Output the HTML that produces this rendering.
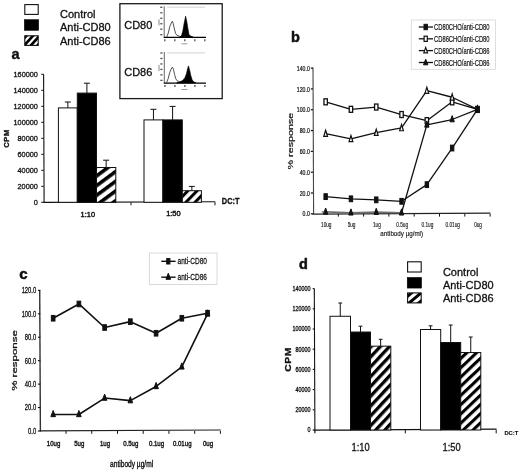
<!DOCTYPE html>
<html lang="en">
<head>
<meta charset="utf-8">
<title>Figure: CD80 / CD86 blocking</title>
<style>
html,body{margin:0;padding:0;background:#fff;}
body{width:520px;height:473px;overflow:hidden;}
svg{display:block;font-family:"Liberation Sans",Arial,Helvetica,sans-serif;}
</style>
</head>
<body>
<svg width="520" height="473" viewBox="0 0 520 473">
<defs>
<pattern id="hatchA" patternUnits="userSpaceOnUse" width="8" height="7.8" patternTransform="translate(0,2.6) rotate(-36.5)">
<rect x="0" y="0" width="8" height="7.8" fill="#fff"/><rect x="0" y="0" width="8" height="3.6" fill="#000"/>
</pattern>
<pattern id="hatchA2" patternUnits="userSpaceOnUse" width="8" height="6.6" patternTransform="rotate(-46) translate(0,2.16)">
<rect x="0" y="0" width="8" height="6.6" fill="#fff"/><rect x="0" y="0" width="8" height="3.0" fill="#000"/>
</pattern>
<pattern id="hatchD2" patternUnits="userSpaceOnUse" width="8" height="6.7" patternTransform="rotate(-43.5) translate(0,-0.5)">
<rect x="0" y="0" width="8" height="6.7" fill="#fff"/><rect x="0" y="0" width="8" height="3.1" fill="#000"/>
</pattern>
<pattern id="hatchD" patternUnits="userSpaceOnUse" width="8" height="6.7" patternTransform="translate(0,-4.5) rotate(-47)">
<rect x="0" y="0" width="8" height="6.7" fill="#fff"/><rect x="0" y="0" width="8" height="3.3" fill="#000"/>
</pattern>
</defs>
<rect x="0" y="0" width="520" height="473" fill="#fff"/>

<g id="panel-a">
<rect x="24.80" y="4.60" width="13.40" height="9.80" fill="#fff" stroke="#111" stroke-width="1.1"/>
<rect x="24.30" y="19.60" width="14.40" height="10.80" fill="#000" stroke="#000" stroke-width="0.5"/>
<clipPath id="hb1"><rect x="24.80" y="35.80" width="13.40" height="9.60"/></clipPath>
<rect x="24.80" y="35.80" width="13.40" height="9.60" fill="#fff" stroke="none" stroke-width="0"/>
<g clip-path="url(#hb1)">
<line x1="-15.57" y1="67.69" x2="24.57" y2="23.11" stroke="#000" stroke-width="2.7"/>
<line x1="-8.97" y1="67.69" x2="31.17" y2="23.11" stroke="#000" stroke-width="2.7"/>
<line x1="-2.37" y1="67.69" x2="37.77" y2="23.11" stroke="#000" stroke-width="2.7"/>
<line x1="4.23" y1="67.69" x2="44.37" y2="23.11" stroke="#000" stroke-width="2.7"/>
<line x1="10.83" y1="67.69" x2="50.97" y2="23.11" stroke="#000" stroke-width="2.7"/>
<line x1="17.43" y1="67.69" x2="57.57" y2="23.11" stroke="#000" stroke-width="2.7"/>
<line x1="24.03" y1="67.69" x2="64.17" y2="23.11" stroke="#000" stroke-width="2.7"/>
<line x1="30.63" y1="67.69" x2="70.77" y2="23.11" stroke="#000" stroke-width="2.7"/>
</g>
<rect x="24.80" y="35.80" width="13.40" height="9.60" fill="none" stroke="#111" stroke-width="1.1"/>
<text transform="translate(60.00,18.20)" font-size="11" text-anchor="start" font-weight="normal" fill="#111" stroke="#111" stroke-width="0.3">Control</text>
<text transform="translate(60.00,31.20)" font-size="11" text-anchor="start" font-weight="normal" fill="#111" stroke="#111" stroke-width="0.3">Anti-CD80</text>
<text transform="translate(60.00,44.80)" font-size="11" text-anchor="start" font-weight="normal" fill="#111" stroke="#111" stroke-width="0.3">Anti-CD86</text>
<text transform="translate(11.40,58.60)" font-size="14.5" text-anchor="start" font-weight="bold" fill="#111" stroke="#111" stroke-width="0.4">a</text>
<line x1="43.60" y1="74.20" x2="44.10" y2="202.80" stroke="#111" stroke-width="1.1"/>
<line x1="43.30" y1="202.40" x2="215.30" y2="201.70" stroke="#111" stroke-width="1.1"/>
<line x1="41.20" y1="202.30" x2="43.80" y2="202.30" stroke="#111" stroke-width="1.0"/>
<text transform="translate(37.90,204.90) scale(0.940,1)" font-size="7.8" text-anchor="end" font-weight="normal" fill="#111" stroke="#111" stroke-width="0.3">0</text>
<line x1="41.20" y1="186.30" x2="43.80" y2="186.30" stroke="#111" stroke-width="1.0"/>
<text transform="translate(37.90,188.90) scale(0.940,1)" font-size="7.8" text-anchor="end" font-weight="normal" fill="#111" stroke="#111" stroke-width="0.3">20000</text>
<line x1="41.20" y1="170.30" x2="43.80" y2="170.30" stroke="#111" stroke-width="1.0"/>
<text transform="translate(37.90,172.90) scale(0.940,1)" font-size="7.8" text-anchor="end" font-weight="normal" fill="#111" stroke="#111" stroke-width="0.3">40000</text>
<line x1="41.20" y1="154.30" x2="43.80" y2="154.30" stroke="#111" stroke-width="1.0"/>
<text transform="translate(37.90,156.90) scale(0.940,1)" font-size="7.8" text-anchor="end" font-weight="normal" fill="#111" stroke="#111" stroke-width="0.3">60000</text>
<line x1="41.20" y1="138.30" x2="43.80" y2="138.30" stroke="#111" stroke-width="1.0"/>
<text transform="translate(37.90,140.90) scale(0.940,1)" font-size="7.8" text-anchor="end" font-weight="normal" fill="#111" stroke="#111" stroke-width="0.3">80000</text>
<line x1="41.20" y1="122.30" x2="43.80" y2="122.30" stroke="#111" stroke-width="1.0"/>
<text transform="translate(37.90,124.90) scale(0.940,1)" font-size="7.8" text-anchor="end" font-weight="normal" fill="#111" stroke="#111" stroke-width="0.3">100000</text>
<line x1="41.20" y1="106.30" x2="43.80" y2="106.30" stroke="#111" stroke-width="1.0"/>
<text transform="translate(37.90,108.90) scale(0.940,1)" font-size="7.8" text-anchor="end" font-weight="normal" fill="#111" stroke="#111" stroke-width="0.3">120000</text>
<line x1="41.20" y1="90.30" x2="43.80" y2="90.30" stroke="#111" stroke-width="1.0"/>
<text transform="translate(37.90,92.90) scale(0.940,1)" font-size="7.8" text-anchor="end" font-weight="normal" fill="#111" stroke="#111" stroke-width="0.3">140000</text>
<line x1="41.20" y1="74.30" x2="43.80" y2="74.30" stroke="#111" stroke-width="1.0"/>
<text transform="translate(37.90,76.90) scale(0.940,1)" font-size="7.8" text-anchor="end" font-weight="normal" fill="#111" stroke="#111" stroke-width="0.3">160000</text>
<line x1="131.00" y1="202.30" x2="131.00" y2="205.30" stroke="#111" stroke-width="1.0"/>
<line x1="215.00" y1="202.30" x2="215.00" y2="205.30" stroke="#111" stroke-width="1.0"/>
<line x1="67.85" y1="102.00" x2="67.85" y2="107.90" stroke="#111" stroke-width="1.0"/>
<line x1="64.85" y1="102.00" x2="70.85" y2="102.00" stroke="#111" stroke-width="1.0"/>
<rect x="58.40" y="107.90" width="18.90" height="94.40" fill="#fff" stroke="#111" stroke-width="1.0"/>
<line x1="86.90" y1="83.20" x2="86.90" y2="93.10" stroke="#111" stroke-width="1.0"/>
<line x1="83.90" y1="83.20" x2="89.90" y2="83.20" stroke="#111" stroke-width="1.0"/>
<rect x="77.30" y="93.10" width="19.20" height="109.20" fill="#000" stroke="#111" stroke-width="1.0"/>
<line x1="106.15" y1="160.20" x2="106.15" y2="167.50" stroke="#111" stroke-width="1.0"/>
<line x1="103.15" y1="160.20" x2="109.15" y2="160.20" stroke="#111" stroke-width="1.0"/>
<rect x="96.50" y="167.50" width="19.30" height="34.80" fill="url(#hatchA)" stroke="#111" stroke-width="1.0"/>
<line x1="153.45" y1="109.30" x2="153.45" y2="119.90" stroke="#111" stroke-width="1.0"/>
<line x1="150.45" y1="109.30" x2="156.45" y2="109.30" stroke="#111" stroke-width="1.0"/>
<rect x="144.00" y="119.90" width="18.90" height="82.40" fill="#fff" stroke="#111" stroke-width="1.0"/>
<line x1="172.60" y1="106.40" x2="172.60" y2="119.90" stroke="#111" stroke-width="1.0"/>
<line x1="169.60" y1="106.40" x2="175.60" y2="106.40" stroke="#111" stroke-width="1.0"/>
<rect x="162.90" y="119.90" width="19.40" height="82.40" fill="#000" stroke="#111" stroke-width="1.0"/>
<line x1="191.85" y1="186.40" x2="191.85" y2="190.70" stroke="#111" stroke-width="1.0"/>
<line x1="188.85" y1="186.40" x2="194.85" y2="186.40" stroke="#111" stroke-width="1.0"/>
<rect x="182.30" y="190.70" width="19.10" height="11.60" fill="url(#hatchA2)" stroke="#111" stroke-width="1.0"/>
<text transform="translate(87.80,216.60) scale(0.950,1)" font-size="7.8" text-anchor="middle" font-weight="normal" fill="#111" stroke="#111" stroke-width="0.45">1:10</text>
<text transform="translate(173.40,216.40) scale(0.950,1)" font-size="7.8" text-anchor="middle" font-weight="normal" fill="#111" stroke="#111" stroke-width="0.45">1:50</text>
<text transform="translate(221.80,203.50) scale(0.900,1)" font-size="8.2" text-anchor="start" font-weight="bold" fill="#111" stroke="#111" stroke-width="0.3">DC:T</text>
<text transform="translate(8.50,138.40) rotate(-90)" font-size="7.6" text-anchor="middle" font-weight="bold" fill="#111" letter-spacing="0.6" stroke="#111" stroke-width="0.35">CPM</text>
<rect x="119.90" y="3.70" width="102.30" height="94.90" fill="#fff" stroke="#1a1a1a" stroke-width="1.3"/>
<text transform="translate(124.20,28.80)" font-size="11" text-anchor="start" font-weight="normal" fill="#111" stroke="#111" stroke-width="0.3">CD80</text>
<text transform="translate(124.20,75.80)" font-size="11" text-anchor="start" font-weight="normal" fill="#111" stroke="#111" stroke-width="0.3">CD86</text>
<line x1="167.20" y1="7.20" x2="205.00" y2="7.20" stroke="#c8c8c8" stroke-width="0.8"/>
<line x1="164.20" y1="6.30" x2="164.20" y2="37.40" stroke="#666" stroke-width="1.0"/>
<line x1="160.20" y1="7.30" x2="162.40" y2="7.30" stroke="#555" stroke-width="1.3"/>
<line x1="160.20" y1="12.77" x2="162.40" y2="12.77" stroke="#555" stroke-width="1.3"/>
<line x1="160.20" y1="18.25" x2="162.40" y2="18.25" stroke="#555" stroke-width="1.3"/>
<line x1="160.20" y1="23.72" x2="162.40" y2="23.72" stroke="#555" stroke-width="1.3"/>
<line x1="160.20" y1="29.19" x2="162.40" y2="29.19" stroke="#555" stroke-width="1.3"/>
<line x1="160.20" y1="34.66" x2="162.40" y2="34.66" stroke="#555" stroke-width="1.3"/>
<polyline points="166.8,36.9 168.3,33 169.8,26.5 171.2,23.2 172.3,21.3 173.2,23.5 174.4,29 175.6,33.4 176.8,35.2 179.8,36.4 183,36.9" fill="none" stroke="#333" stroke-width="0.85" stroke-linejoin="round"/>
<polygon points="179.5,37.2 181.5,35.6 182.8,31 184,24 185.6,16.2 186.8,21.5 187.8,28 189,34.4 190.5,36 193.5,37.2" fill="#000" stroke="#000" stroke-width="0.6" stroke-linejoin="round"/>
<line x1="163.70" y1="37.40" x2="206.00" y2="37.40" stroke="#000" stroke-width="1.4"/>
<line x1="164.80" y1="39.20" x2="164.80" y2="41.20" stroke="#666" stroke-width="1.5"/>
<line x1="174.80" y1="39.20" x2="174.80" y2="41.20" stroke="#666" stroke-width="1.5"/>
<line x1="184.80" y1="39.20" x2="184.80" y2="41.20" stroke="#666" stroke-width="1.5"/>
<line x1="194.80" y1="39.20" x2="194.80" y2="41.20" stroke="#666" stroke-width="1.5"/>
<line x1="204.80" y1="39.20" x2="204.80" y2="41.20" stroke="#666" stroke-width="1.5"/>
<line x1="181.50" y1="43.80" x2="187.50" y2="43.80" stroke="#999" stroke-width="1.0"/>
<line x1="159.00" y1="19.35" x2="159.00" y2="25.35" stroke="#888" stroke-width="1.0"/>
<line x1="167.30" y1="52.90" x2="205.00" y2="52.90" stroke="#c8c8c8" stroke-width="0.8"/>
<line x1="164.30" y1="52.00" x2="164.30" y2="83.10" stroke="#666" stroke-width="1.0"/>
<line x1="160.30" y1="53.00" x2="162.50" y2="53.00" stroke="#555" stroke-width="1.3"/>
<line x1="160.30" y1="58.47" x2="162.50" y2="58.47" stroke="#555" stroke-width="1.3"/>
<line x1="160.30" y1="63.95" x2="162.50" y2="63.95" stroke="#555" stroke-width="1.3"/>
<line x1="160.30" y1="69.42" x2="162.50" y2="69.42" stroke="#555" stroke-width="1.3"/>
<line x1="160.30" y1="74.89" x2="162.50" y2="74.89" stroke="#555" stroke-width="1.3"/>
<line x1="160.30" y1="80.36" x2="162.50" y2="80.36" stroke="#555" stroke-width="1.3"/>
<polyline points="166.6,82.6 168.2,78.5 169.8,72.3 171.2,69 172.4,67.1 173.4,69.2 174.6,74.5 175.8,78.8 177,80.6 180,82 183,82.6" fill="none" stroke="#333" stroke-width="0.85" stroke-linejoin="round"/>
<polygon points="176.5,82.9 179.5,82 182.9,80.3 185,77.5 186.5,73.5 187.6,68.5 188.5,65.9 189.6,70 190.8,75.5 192.2,80 193.5,81.6 196,82.9" fill="#000" stroke="#000" stroke-width="0.6" stroke-linejoin="round"/>
<line x1="163.80" y1="83.10" x2="206.00" y2="83.10" stroke="#000" stroke-width="1.4"/>
<line x1="164.90" y1="84.90" x2="164.90" y2="86.90" stroke="#666" stroke-width="1.5"/>
<line x1="174.90" y1="84.90" x2="174.90" y2="86.90" stroke="#666" stroke-width="1.5"/>
<line x1="184.90" y1="84.90" x2="184.90" y2="86.90" stroke="#666" stroke-width="1.5"/>
<line x1="194.90" y1="84.90" x2="194.90" y2="86.90" stroke="#666" stroke-width="1.5"/>
<line x1="204.90" y1="84.90" x2="204.90" y2="86.90" stroke="#666" stroke-width="1.5"/>
<line x1="181.50" y1="89.50" x2="187.50" y2="89.50" stroke="#999" stroke-width="1.0"/>
<line x1="159.00" y1="65.05" x2="159.00" y2="71.05" stroke="#888" stroke-width="1.0"/>
</g>
<g id="panel-b">
<text transform="translate(291.10,42.40)" font-size="14.5" text-anchor="start" font-weight="bold" fill="#111" stroke="#111" stroke-width="0.5">b</text>
<line x1="313.00" y1="67.60" x2="313.60" y2="214.30" stroke="#444" stroke-width="1.1"/>
<line x1="312.50" y1="214.10" x2="490.40" y2="213.20" stroke="#222" stroke-width="1.3"/>
<line x1="310.80" y1="213.80" x2="313.00" y2="213.80" stroke="#111" stroke-width="1.2"/>
<text transform="translate(309.80,216.40) scale(0.700,1)" font-size="7.4" text-anchor="end" font-weight="normal" fill="#111" stroke="#111" stroke-width="0.25">0.0</text>
<line x1="310.80" y1="192.99" x2="313.00" y2="192.99" stroke="#111" stroke-width="1.2"/>
<text transform="translate(309.80,195.59) scale(0.700,1)" font-size="7.4" text-anchor="end" font-weight="normal" fill="#111" stroke="#111" stroke-width="0.25">20.0</text>
<line x1="310.80" y1="172.18" x2="313.00" y2="172.18" stroke="#111" stroke-width="1.2"/>
<text transform="translate(309.80,174.78) scale(0.700,1)" font-size="7.4" text-anchor="end" font-weight="normal" fill="#111" stroke="#111" stroke-width="0.25">40.0</text>
<line x1="310.80" y1="151.36" x2="313.00" y2="151.36" stroke="#111" stroke-width="1.2"/>
<text transform="translate(309.80,153.96) scale(0.700,1)" font-size="7.4" text-anchor="end" font-weight="normal" fill="#111" stroke="#111" stroke-width="0.25">60.0</text>
<line x1="310.80" y1="130.55" x2="313.00" y2="130.55" stroke="#111" stroke-width="1.2"/>
<text transform="translate(309.80,133.15) scale(0.700,1)" font-size="7.4" text-anchor="end" font-weight="normal" fill="#111" stroke="#111" stroke-width="0.25">80.0</text>
<line x1="310.80" y1="109.74" x2="313.00" y2="109.74" stroke="#111" stroke-width="1.2"/>
<text transform="translate(309.80,112.34) scale(0.700,1)" font-size="7.4" text-anchor="end" font-weight="normal" fill="#111" stroke="#111" stroke-width="0.25">100.0</text>
<line x1="310.80" y1="88.93" x2="313.00" y2="88.93" stroke="#111" stroke-width="1.2"/>
<text transform="translate(309.80,91.53) scale(0.700,1)" font-size="7.4" text-anchor="end" font-weight="normal" fill="#111" stroke="#111" stroke-width="0.25">120.0</text>
<line x1="310.80" y1="68.12" x2="313.00" y2="68.12" stroke="#111" stroke-width="1.2"/>
<text transform="translate(309.80,70.72) scale(0.700,1)" font-size="7.4" text-anchor="end" font-weight="normal" fill="#111" stroke="#111" stroke-width="0.25">140.0</text>
<line x1="338.30" y1="213.80" x2="338.30" y2="216.60" stroke="#111" stroke-width="1.0"/>
<line x1="363.60" y1="213.80" x2="363.60" y2="216.60" stroke="#111" stroke-width="1.0"/>
<line x1="388.90" y1="213.80" x2="388.90" y2="216.60" stroke="#111" stroke-width="1.0"/>
<line x1="414.20" y1="213.80" x2="414.20" y2="216.60" stroke="#111" stroke-width="1.0"/>
<line x1="439.50" y1="213.80" x2="439.50" y2="216.60" stroke="#111" stroke-width="1.0"/>
<line x1="464.80" y1="213.80" x2="464.80" y2="216.60" stroke="#111" stroke-width="1.0"/>
<line x1="490.10" y1="213.80" x2="490.10" y2="216.60" stroke="#111" stroke-width="1.0"/>
<text transform="translate(326.25,227.30) scale(0.620,1)" font-size="7.6" text-anchor="middle" font-weight="normal" fill="#111" stroke="#111" stroke-width="0.15">10ug</text>
<text transform="translate(351.55,227.30) scale(0.620,1)" font-size="7.6" text-anchor="middle" font-weight="normal" fill="#111" stroke="#111" stroke-width="0.15">5ug</text>
<text transform="translate(376.85,227.30) scale(0.620,1)" font-size="7.6" text-anchor="middle" font-weight="normal" fill="#111" stroke="#111" stroke-width="0.15">1ug</text>
<text transform="translate(402.15,227.30) scale(0.620,1)" font-size="7.6" text-anchor="middle" font-weight="normal" fill="#111" stroke="#111" stroke-width="0.15">0.5ug</text>
<text transform="translate(427.45,227.30) scale(0.620,1)" font-size="7.6" text-anchor="middle" font-weight="normal" fill="#111" stroke="#111" stroke-width="0.15">0.1ug</text>
<text transform="translate(452.75,227.30) scale(0.620,1)" font-size="7.6" text-anchor="middle" font-weight="normal" fill="#111" stroke="#111" stroke-width="0.15">0.01ug</text>
<text transform="translate(478.05,227.30) scale(0.620,1)" font-size="7.6" text-anchor="middle" font-weight="normal" fill="#111" stroke="#111" stroke-width="0.15">0ug</text>
<text transform="translate(401.70,235.80) scale(0.800,1)" font-size="7.8" text-anchor="middle" font-weight="normal" fill="#111" stroke="#111" stroke-width="0.15">antibody µg/ml)</text>
<text transform="translate(292.80,141.10) rotate(-90) scale(1.430,1)" font-size="7.5" text-anchor="middle" font-weight="normal" fill="#111" stroke="#111" stroke-width="0.2">% response</text>
<polyline points="325.65,211.93 350.95,212.76 376.25,212.14 401.55,212.76" fill="none" stroke="#707070" stroke-width="1.7" stroke-linejoin="round"/>
<line x1="321.65" y1="211.93" x2="325.65" y2="211.93" stroke="#8a8a8a" stroke-width="1.7"/>
<polyline points="401.55,212.76 426.85,124.83 452.15,119.52 477.45,109.43" fill="none" stroke="#111" stroke-width="1.3" stroke-linejoin="round"/>
<polyline points="325.65,196.63 350.95,198.82 376.25,199.86 401.55,201.31 426.85,184.66 452.15,148.03 477.45,109.43" fill="none" stroke="#111" stroke-width="1.3" stroke-linejoin="round"/>
<polyline points="325.65,101.83 350.95,109.32 376.25,107.03 401.55,114.53 426.85,120.67 452.15,101.83 477.45,109.43" fill="none" stroke="#111" stroke-width="1.3" stroke-linejoin="round"/>
<polyline points="325.65,133.67 350.95,138.88 376.25,132.63 401.55,127.95 426.85,90.59 452.15,97.25 477.45,109.43" fill="none" stroke="#111" stroke-width="1.3" stroke-linejoin="round"/>
<rect x="323.95" y="98.83" width="3.40" height="6.00" fill="#fff" stroke="#111" stroke-width="1.3"/>
<rect x="349.25" y="106.32" width="3.40" height="6.00" fill="#fff" stroke="#111" stroke-width="1.3"/>
<rect x="374.55" y="104.03" width="3.40" height="6.00" fill="#fff" stroke="#111" stroke-width="1.3"/>
<rect x="399.85" y="111.53" width="3.40" height="6.00" fill="#fff" stroke="#111" stroke-width="1.3"/>
<rect x="425.15" y="117.67" width="3.40" height="6.00" fill="#fff" stroke="#111" stroke-width="1.3"/>
<rect x="450.45" y="98.83" width="3.40" height="6.00" fill="#fff" stroke="#111" stroke-width="1.3"/>
<rect x="475.75" y="106.43" width="3.40" height="6.00" fill="#fff" stroke="#111" stroke-width="1.3"/>
<polygon points="325.65,130.27 323.75,136.47 327.55,136.47" fill="#fff" stroke="#111" stroke-width="1.2" stroke-linejoin="miter"/>
<polygon points="350.95,135.48 349.05,141.68 352.85,141.68" fill="#fff" stroke="#111" stroke-width="1.2" stroke-linejoin="miter"/>
<polygon points="376.25,129.23 374.35,135.43 378.15,135.43" fill="#fff" stroke="#111" stroke-width="1.2" stroke-linejoin="miter"/>
<polygon points="401.55,124.55 399.65,130.75 403.45,130.75" fill="#fff" stroke="#111" stroke-width="1.2" stroke-linejoin="miter"/>
<polygon points="426.85,87.19 424.95,93.39 428.75,93.39" fill="#fff" stroke="#111" stroke-width="1.2" stroke-linejoin="miter"/>
<polygon points="452.15,93.85 450.25,100.05 454.05,100.05" fill="#fff" stroke="#111" stroke-width="1.2" stroke-linejoin="miter"/>
<polygon points="477.45,106.03 475.55,112.23 479.35,112.23" fill="#fff" stroke="#111" stroke-width="1.2" stroke-linejoin="miter"/>
<polygon points="325.65,208.03 323.45,214.23 327.85,214.23" fill="#111" stroke="#111" stroke-width="1.0" stroke-linejoin="miter"/>
<polygon points="350.95,208.86 348.75,215.06 353.15,215.06" fill="#111" stroke="#111" stroke-width="1.0" stroke-linejoin="miter"/>
<polygon points="376.25,208.24 374.05,214.44 378.45,214.44" fill="#111" stroke="#111" stroke-width="1.0" stroke-linejoin="miter"/>
<polygon points="401.55,208.86 399.35,215.06 403.75,215.06" fill="#111" stroke="#111" stroke-width="1.0" stroke-linejoin="miter"/>
<polygon points="426.85,120.93 424.65,127.13 429.05,127.13" fill="#111" stroke="#111" stroke-width="1.0" stroke-linejoin="miter"/>
<polygon points="452.15,115.62 449.95,121.82 454.35,121.82" fill="#111" stroke="#111" stroke-width="1.0" stroke-linejoin="miter"/>
<polygon points="477.45,105.53 475.25,111.73 479.65,111.73" fill="#111" stroke="#111" stroke-width="1.0" stroke-linejoin="miter"/>
<rect x="323.95" y="193.73" width="3.40" height="5.80" fill="#111" stroke="#111" stroke-width="1.0"/>
<rect x="349.25" y="195.92" width="3.40" height="5.80" fill="#111" stroke="#111" stroke-width="1.0"/>
<rect x="374.55" y="196.96" width="3.40" height="5.80" fill="#111" stroke="#111" stroke-width="1.0"/>
<rect x="399.85" y="198.41" width="3.40" height="5.80" fill="#111" stroke="#111" stroke-width="1.0"/>
<rect x="425.15" y="181.76" width="3.40" height="5.80" fill="#111" stroke="#111" stroke-width="1.0"/>
<rect x="450.45" y="145.13" width="3.40" height="5.80" fill="#111" stroke="#111" stroke-width="1.0"/>
<rect x="475.75" y="106.53" width="3.40" height="5.80" fill="#111" stroke="#111" stroke-width="1.0"/>
<rect x="411.30" y="20.00" width="84.20" height="49.30" fill="#fff" stroke="#d6d6d6" stroke-width="0.8"/>
<line x1="418.80" y1="27.00" x2="433.00" y2="27.00" stroke="#111" stroke-width="1.3"/>
<rect x="424.00" y="24.30" width="3.40" height="5.40" fill="#111" stroke="#111" stroke-width="1.0"/>
<text transform="translate(434.00,30.10) scale(0.626,1)" font-size="9.3" text-anchor="start" font-weight="normal" fill="#111" stroke="#111" stroke-width="0.2">CD80CHO/anti-CD80</text>
<line x1="418.80" y1="38.80" x2="433.00" y2="38.80" stroke="#111" stroke-width="1.3"/>
<rect x="424.10" y="36.20" width="3.20" height="5.20" fill="#fff" stroke="#111" stroke-width="1.2"/>
<text transform="translate(434.00,41.90) scale(0.626,1)" font-size="9.3" text-anchor="start" font-weight="normal" fill="#111" stroke="#111" stroke-width="0.2">CD86CHO/anti-CD80</text>
<line x1="418.80" y1="50.60" x2="433.00" y2="50.60" stroke="#111" stroke-width="1.3"/>
<polygon points="425.70,47.50 423.80,52.90 427.60,52.90" fill="#fff" stroke="#111" stroke-width="1.1" stroke-linejoin="miter"/>
<text transform="translate(434.00,53.70) scale(0.626,1)" font-size="9.3" text-anchor="start" font-weight="normal" fill="#111" stroke="#111" stroke-width="0.2">CD80CHO/anti-CD86</text>
<line x1="418.80" y1="62.50" x2="433.00" y2="62.50" stroke="#111" stroke-width="1.3"/>
<polygon points="425.70,59.20 423.50,64.80 427.90,64.80" fill="#111" stroke="#111" stroke-width="1.0" stroke-linejoin="miter"/>
<text transform="translate(434.00,65.60) scale(0.626,1)" font-size="9.3" text-anchor="start" font-weight="normal" fill="#111" stroke="#111" stroke-width="0.2">CD86CHO/anti-CD86</text>
</g>
<g id="panel-c">
<text transform="translate(19.30,278.60)" font-size="15" text-anchor="start" font-weight="bold" fill="#111" stroke="#111" stroke-width="0.5">c</text>
<line x1="39.70" y1="290.00" x2="40.40" y2="431.50" stroke="#333" stroke-width="1.4"/>
<line x1="39.80" y1="430.90" x2="220.80" y2="430.00" stroke="#222" stroke-width="1.2"/>
<line x1="37.90" y1="431.00" x2="40.30" y2="431.00" stroke="#111" stroke-width="1.1"/>
<text transform="translate(36.20,433.90) scale(0.710,1)" font-size="8.2" text-anchor="end" font-weight="normal" fill="#111" stroke="#111" stroke-width="0.3">0.0</text>
<line x1="37.90" y1="407.56" x2="40.30" y2="407.56" stroke="#111" stroke-width="1.1"/>
<text transform="translate(36.20,410.46) scale(0.710,1)" font-size="8.2" text-anchor="end" font-weight="normal" fill="#111" stroke="#111" stroke-width="0.3">20.0</text>
<line x1="37.90" y1="384.12" x2="40.30" y2="384.12" stroke="#111" stroke-width="1.1"/>
<text transform="translate(36.20,387.02) scale(0.710,1)" font-size="8.2" text-anchor="end" font-weight="normal" fill="#111" stroke="#111" stroke-width="0.3">40.0</text>
<line x1="37.90" y1="360.68" x2="40.30" y2="360.68" stroke="#111" stroke-width="1.1"/>
<text transform="translate(36.20,363.58) scale(0.710,1)" font-size="8.2" text-anchor="end" font-weight="normal" fill="#111" stroke="#111" stroke-width="0.3">60.0</text>
<line x1="37.90" y1="337.24" x2="40.30" y2="337.24" stroke="#111" stroke-width="1.1"/>
<text transform="translate(36.20,340.14) scale(0.710,1)" font-size="8.2" text-anchor="end" font-weight="normal" fill="#111" stroke="#111" stroke-width="0.3">80.0</text>
<line x1="37.90" y1="313.80" x2="40.30" y2="313.80" stroke="#111" stroke-width="1.1"/>
<text transform="translate(36.20,316.70) scale(0.710,1)" font-size="8.2" text-anchor="end" font-weight="normal" fill="#111" stroke="#111" stroke-width="0.3">100.0</text>
<line x1="37.90" y1="290.36" x2="40.30" y2="290.36" stroke="#111" stroke-width="1.1"/>
<text transform="translate(36.20,293.26) scale(0.710,1)" font-size="8.2" text-anchor="end" font-weight="normal" fill="#111" stroke="#111" stroke-width="0.3">120.0</text>
<line x1="66.03" y1="431.00" x2="66.03" y2="433.80" stroke="#111" stroke-width="1.0"/>
<line x1="91.76" y1="431.00" x2="91.76" y2="433.80" stroke="#111" stroke-width="1.0"/>
<line x1="117.49" y1="431.00" x2="117.49" y2="433.80" stroke="#111" stroke-width="1.0"/>
<line x1="143.22" y1="431.00" x2="143.22" y2="433.80" stroke="#111" stroke-width="1.0"/>
<line x1="168.95" y1="431.00" x2="168.95" y2="433.80" stroke="#111" stroke-width="1.0"/>
<line x1="194.68" y1="431.00" x2="194.68" y2="433.80" stroke="#111" stroke-width="1.0"/>
<line x1="220.41" y1="431.00" x2="220.41" y2="433.80" stroke="#111" stroke-width="1.0"/>
<text transform="translate(53.56,446.20) scale(0.780,1)" font-size="7.8" text-anchor="middle" font-weight="normal" fill="#111" stroke="#111" stroke-width="0.4">10ug</text>
<text transform="translate(79.30,446.20) scale(0.780,1)" font-size="7.8" text-anchor="middle" font-weight="normal" fill="#111" stroke="#111" stroke-width="0.4">5ug</text>
<text transform="translate(105.03,446.20) scale(0.780,1)" font-size="7.8" text-anchor="middle" font-weight="normal" fill="#111" stroke="#111" stroke-width="0.4">1ug</text>
<text transform="translate(130.76,446.20) scale(0.780,1)" font-size="7.8" text-anchor="middle" font-weight="normal" fill="#111" stroke="#111" stroke-width="0.4">0.5ug</text>
<text transform="translate(156.48,446.20) scale(0.780,1)" font-size="7.8" text-anchor="middle" font-weight="normal" fill="#111" stroke="#111" stroke-width="0.4">0.1ug</text>
<text transform="translate(182.22,446.20) scale(0.780,1)" font-size="7.8" text-anchor="middle" font-weight="normal" fill="#111" stroke="#111" stroke-width="0.4">0.01ug</text>
<text transform="translate(207.95,446.20) scale(0.780,1)" font-size="7.8" text-anchor="middle" font-weight="normal" fill="#111" stroke="#111" stroke-width="0.4">0ug</text>
<text transform="translate(131.60,467.30) scale(0.770,1)" font-size="8.6" text-anchor="middle" font-weight="normal" fill="#111" stroke="#111" stroke-width="0.35">antibody µg/ml</text>
<text transform="translate(16.90,360.50) rotate(-90) scale(1.420,1)" font-size="8.1" text-anchor="middle" font-weight="normal" fill="#111" stroke="#111" stroke-width="0.25">% response</text>
<polyline points="53.16,318.25 78.89,303.96 104.62,327.51 130.36,321.65 156.08,333.26 181.81,318.25 207.55,313.21" fill="none" stroke="#111" stroke-width="1.6" stroke-linejoin="round"/>
<polyline points="53.16,414.47 78.89,414.47 104.62,398.07 130.36,400.65 156.08,386.46 181.81,366.89 207.55,313.80" fill="none" stroke="#111" stroke-width="1.6" stroke-linejoin="round"/>
<rect x="51.37" y="315.45" width="3.60" height="5.60" fill="#111" stroke="#111" stroke-width="1.0"/>
<rect x="77.09" y="301.16" width="3.60" height="5.60" fill="#111" stroke="#111" stroke-width="1.0"/>
<rect x="102.83" y="324.71" width="3.60" height="5.60" fill="#111" stroke="#111" stroke-width="1.0"/>
<rect x="128.56" y="318.85" width="3.60" height="5.60" fill="#111" stroke="#111" stroke-width="1.0"/>
<rect x="154.28" y="330.46" width="3.60" height="5.60" fill="#111" stroke="#111" stroke-width="1.0"/>
<rect x="180.01" y="315.45" width="3.60" height="5.60" fill="#111" stroke="#111" stroke-width="1.0"/>
<rect x="205.75" y="310.41" width="3.60" height="5.60" fill="#111" stroke="#111" stroke-width="1.0"/>
<polygon points="53.16,410.47 50.87,416.67 55.46,416.67" fill="#111" stroke="#111" stroke-width="1.0" stroke-linejoin="miter"/>
<polygon points="78.89,410.47 76.59,416.67 81.19,416.67" fill="#111" stroke="#111" stroke-width="1.0" stroke-linejoin="miter"/>
<polygon points="104.62,394.07 102.33,400.27 106.92,400.27" fill="#111" stroke="#111" stroke-width="1.0" stroke-linejoin="miter"/>
<polygon points="130.36,396.65 128.06,402.85 132.66,402.85" fill="#111" stroke="#111" stroke-width="1.0" stroke-linejoin="miter"/>
<polygon points="156.08,382.46 153.78,388.66 158.38,388.66" fill="#111" stroke="#111" stroke-width="1.0" stroke-linejoin="miter"/>
<polygon points="181.81,362.89 179.51,369.09 184.12,369.09" fill="#111" stroke="#111" stroke-width="1.0" stroke-linejoin="miter"/>
<polygon points="207.55,309.80 205.25,316.00 209.85,316.00" fill="#111" stroke="#111" stroke-width="1.0" stroke-linejoin="miter"/>
<rect x="149.50" y="253.00" width="67.50" height="31.50" fill="#fff" stroke="#d2d2d2" stroke-width="0.8"/>
<line x1="161.30" y1="261.30" x2="175.60" y2="261.30" stroke="#111" stroke-width="1.4"/>
<rect x="166.70" y="258.60" width="3.20" height="5.40" fill="#111" stroke="#111" stroke-width="1.0"/>
<line x1="161.30" y1="277.20" x2="175.60" y2="277.20" stroke="#111" stroke-width="1.4"/>
<polygon points="168.30,273.30 166.00,279.30 170.60,279.30" fill="#111" stroke="#111" stroke-width="1.0" stroke-linejoin="miter"/>
<text transform="translate(177.60,264.30) scale(0.750,1)" font-size="8.7" text-anchor="start" font-weight="normal" fill="#111" stroke="#111" stroke-width="0.25">anti-CD80</text>
<text transform="translate(177.60,280.10) scale(0.750,1)" font-size="8.7" text-anchor="start" font-weight="normal" fill="#111" stroke="#111" stroke-width="0.25">anti-CD86</text>
</g>
<g id="panel-d">
<text transform="translate(299.10,269.40)" font-size="14.5" text-anchor="start" font-weight="bold" fill="#111" stroke="#111" stroke-width="0.5">d</text>
<line x1="314.30" y1="288.40" x2="314.90" y2="433.20" stroke="#111" stroke-width="1.1"/>
<line x1="313.80" y1="430.20" x2="496.60" y2="429.20" stroke="#111" stroke-width="1.2"/>
<line x1="312.70" y1="430.00" x2="314.30" y2="430.00" stroke="#111" stroke-width="1.1"/>
<text transform="translate(310.60,432.30) scale(0.820,1)" font-size="6.6" text-anchor="end" font-weight="normal" fill="#111" stroke="#111" stroke-width="0.3">0</text>
<line x1="312.70" y1="409.80" x2="314.30" y2="409.80" stroke="#111" stroke-width="1.1"/>
<text transform="translate(310.60,412.10) scale(0.820,1)" font-size="6.6" text-anchor="end" font-weight="normal" fill="#111" stroke="#111" stroke-width="0.3">20000</text>
<line x1="312.70" y1="389.60" x2="314.30" y2="389.60" stroke="#111" stroke-width="1.1"/>
<text transform="translate(310.60,391.90) scale(0.820,1)" font-size="6.6" text-anchor="end" font-weight="normal" fill="#111" stroke="#111" stroke-width="0.3">40000</text>
<line x1="312.70" y1="369.40" x2="314.30" y2="369.40" stroke="#111" stroke-width="1.1"/>
<text transform="translate(310.60,371.70) scale(0.820,1)" font-size="6.6" text-anchor="end" font-weight="normal" fill="#111" stroke="#111" stroke-width="0.3">60000</text>
<line x1="312.70" y1="349.20" x2="314.30" y2="349.20" stroke="#111" stroke-width="1.1"/>
<text transform="translate(310.60,351.50) scale(0.820,1)" font-size="6.6" text-anchor="end" font-weight="normal" fill="#111" stroke="#111" stroke-width="0.3">80000</text>
<line x1="312.70" y1="329.00" x2="314.30" y2="329.00" stroke="#111" stroke-width="1.1"/>
<text transform="translate(310.60,331.30) scale(0.820,1)" font-size="6.6" text-anchor="end" font-weight="normal" fill="#111" stroke="#111" stroke-width="0.3">100000</text>
<line x1="312.70" y1="308.80" x2="314.30" y2="308.80" stroke="#111" stroke-width="1.1"/>
<text transform="translate(310.60,311.10) scale(0.820,1)" font-size="6.6" text-anchor="end" font-weight="normal" fill="#111" stroke="#111" stroke-width="0.3">120000</text>
<line x1="312.70" y1="288.60" x2="314.30" y2="288.60" stroke="#111" stroke-width="1.1"/>
<text transform="translate(310.60,290.90) scale(0.820,1)" font-size="6.6" text-anchor="end" font-weight="normal" fill="#111" stroke="#111" stroke-width="0.3">140000</text>
<line x1="405.30" y1="430.00" x2="405.30" y2="433.40" stroke="#111" stroke-width="1.0"/>
<line x1="496.20" y1="430.00" x2="496.20" y2="433.40" stroke="#111" stroke-width="1.0"/>
<line x1="340.25" y1="303.00" x2="340.25" y2="316.27" stroke="#111" stroke-width="1.0"/>
<line x1="338.35" y1="303.00" x2="342.15" y2="303.00" stroke="#111" stroke-width="1.0"/>
<rect x="330.00" y="316.27" width="20.50" height="113.73" fill="#fff" stroke="#111" stroke-width="1.0"/>
<line x1="360.50" y1="326.20" x2="360.50" y2="332.03" stroke="#111" stroke-width="1.0"/>
<line x1="358.60" y1="326.20" x2="362.40" y2="326.20" stroke="#111" stroke-width="1.0"/>
<rect x="350.50" y="332.03" width="20.00" height="97.97" fill="#000" stroke="#111" stroke-width="1.0"/>
<line x1="380.65" y1="339.30" x2="380.65" y2="346.17" stroke="#111" stroke-width="1.0"/>
<line x1="378.75" y1="339.30" x2="382.55" y2="339.30" stroke="#111" stroke-width="1.0"/>
<rect x="370.50" y="346.17" width="20.30" height="83.83" fill="url(#hatchD)" stroke="#111" stroke-width="1.0"/>
<line x1="430.60" y1="325.80" x2="430.60" y2="329.50" stroke="#111" stroke-width="1.0"/>
<line x1="428.70" y1="325.80" x2="432.50" y2="325.80" stroke="#111" stroke-width="1.0"/>
<rect x="420.50" y="329.50" width="20.20" height="100.50" fill="#fff" stroke="#111" stroke-width="1.0"/>
<line x1="450.70" y1="325.00" x2="450.70" y2="342.53" stroke="#111" stroke-width="1.0"/>
<line x1="448.80" y1="325.00" x2="452.60" y2="325.00" stroke="#111" stroke-width="1.0"/>
<rect x="440.70" y="342.53" width="20.00" height="87.47" fill="#000" stroke="#111" stroke-width="1.0"/>
<line x1="470.75" y1="337.00" x2="470.75" y2="352.53" stroke="#111" stroke-width="1.0"/>
<line x1="468.85" y1="337.00" x2="472.65" y2="337.00" stroke="#111" stroke-width="1.0"/>
<rect x="460.70" y="352.53" width="20.10" height="77.47" fill="url(#hatchD2)" stroke="#111" stroke-width="1.0"/>
<text transform="translate(360.60,451.30) scale(0.850,1)" font-size="11" text-anchor="middle" font-weight="normal" fill="#111" stroke="#111" stroke-width="0.3">1:10</text>
<text transform="translate(451.60,451.10) scale(0.850,1)" font-size="11" text-anchor="middle" font-weight="normal" fill="#111" stroke="#111" stroke-width="0.3">1:50</text>
<text transform="translate(504.40,435.20)" font-size="5.8" text-anchor="start" font-weight="bold" fill="#111" stroke="#111" stroke-width="0.15">DC:T</text>
<text transform="translate(290.50,359.50) rotate(-90) scale(1.080,1)" font-size="9.6" text-anchor="middle" font-weight="bold" fill="#111" letter-spacing="0.5" stroke="#111" stroke-width="0.3">CPM</text>
<rect x="407.60" y="261.80" width="13.60" height="10.20" fill="#fff" stroke="#111" stroke-width="1.1"/>
<rect x="407.20" y="277.40" width="14.40" height="10.70" fill="#000" stroke="#000" stroke-width="0.5"/>
<clipPath id="hb2"><rect x="407.60" y="292.90" width="13.60" height="10.00"/></clipPath>
<rect x="407.60" y="292.90" width="13.60" height="10.00" fill="#fff" stroke="none" stroke-width="0"/>
<g clip-path="url(#hb2)">
<line x1="357.42" y1="322.18" x2="403.38" y2="283.62" stroke="#000" stroke-width="3.0"/>
<line x1="367.02" y1="322.18" x2="412.98" y2="283.62" stroke="#000" stroke-width="3.0"/>
<line x1="376.62" y1="322.18" x2="422.58" y2="283.62" stroke="#000" stroke-width="3.0"/>
<line x1="386.22" y1="322.18" x2="432.18" y2="283.62" stroke="#000" stroke-width="3.0"/>
<line x1="395.82" y1="322.18" x2="441.78" y2="283.62" stroke="#000" stroke-width="3.0"/>
<line x1="405.42" y1="322.18" x2="451.38" y2="283.62" stroke="#000" stroke-width="3.0"/>
<line x1="415.02" y1="322.18" x2="460.98" y2="283.62" stroke="#000" stroke-width="3.0"/>
<line x1="424.62" y1="322.18" x2="470.58" y2="283.62" stroke="#000" stroke-width="3.0"/>
</g>
<rect x="407.60" y="292.90" width="13.60" height="10.00" fill="none" stroke="#111" stroke-width="1.1"/>
<text transform="translate(442.90,276.20)" font-size="11" text-anchor="start" font-weight="normal" fill="#111" stroke="#111" stroke-width="0.3">Control</text>
<text transform="translate(442.90,288.80)" font-size="11" text-anchor="start" font-weight="normal" fill="#111" stroke="#111" stroke-width="0.3">Anti-CD80</text>
<text transform="translate(442.90,302.20)" font-size="11" text-anchor="start" font-weight="normal" fill="#111" stroke="#111" stroke-width="0.3">Anti-CD86</text>
</g>
</svg>
</body>
</html>
